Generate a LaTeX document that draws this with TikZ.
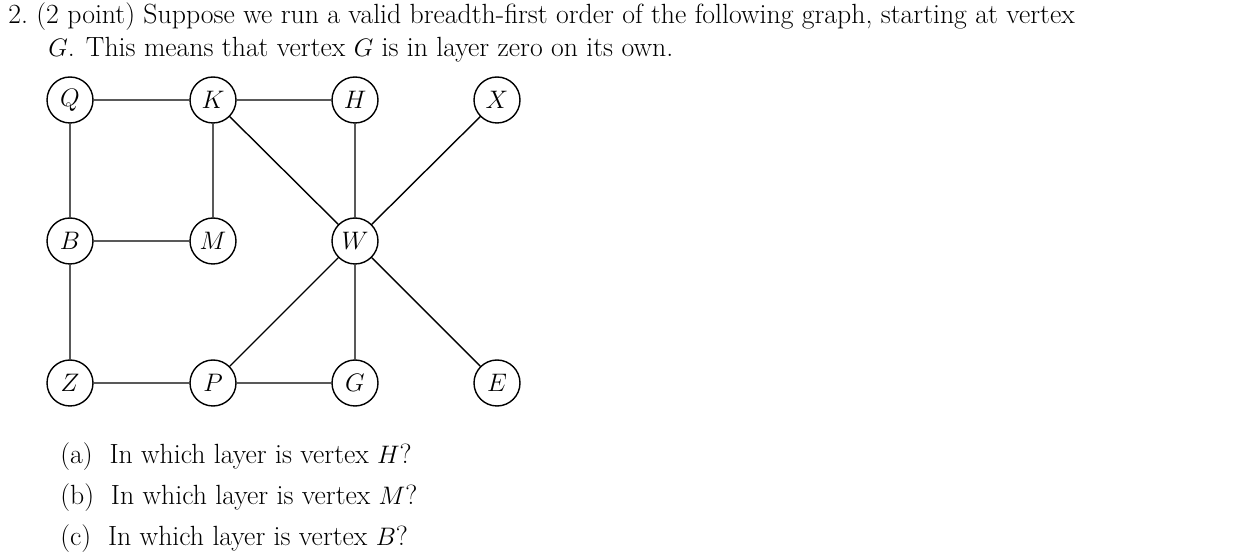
\documentclass[tikz,border=0pt]{standalone}
\begin{document}
\begin{tikzpicture}[x=0.02cm,y=-0.02cm,
  v/.style={circle,draw,thick,minimum size=0.92cm,inner sep=0pt,font=\fontsize{15.5}{18}\selectfont},
  e/.style={thick},
  txt/.style={anchor=base west,inner sep=0pt,font=\fontsize{15.8}{19}\selectfont}]
\useasboundingbox (0,0) rectangle (1233,553);
\node[txt] (t1) at (8,24) {2.\ (2 point) Suppose we run a valid breadth-first order of the following graph, starting at vertex};
\node[txt] (t2) at (48,57) {$G$. This means that vertex $G$ is in layer zero on its own.};
\node[v] (Q) at (70,100) {$Q$};
\node[v] (K) at (213,100) {$K$};
\node[v] (H) at (355,100) {$H$};
\node[v] (X) at (497,100) {$X$};
\node[v] (B) at (70,241) {$B$};
\node[v] (M) at (213,241) {$M$};
\node[v] (W) at (355,241) {$W$};
\node[v] (Z) at (70,383) {$Z$};
\node[v] (P) at (213,383) {$P$};
\node[v] (G) at (355,383) {$G$};
\node[v] (E) at (497,383) {$E$};
\draw[e] (Q)--(K) (K)--(H) (Q)--(B) (K)--(M) (K)--(W) (H)--(W) (X)--(W)
 (B)--(M) (B)--(Z) (Z)--(P) (P)--(G) (P)--(W) (W)--(G) (W)--(E);
\node[txt] (a) at (60,463) {(a)\ \ In which layer is vertex $H$?};
\node[txt] (b) at (60,504) {(b)\ \ In which layer is vertex $M$?};
\node[txt] (c) at (60,545) {(c)\ \ In which layer is vertex $B$?};
\end{tikzpicture}
\end{document}
